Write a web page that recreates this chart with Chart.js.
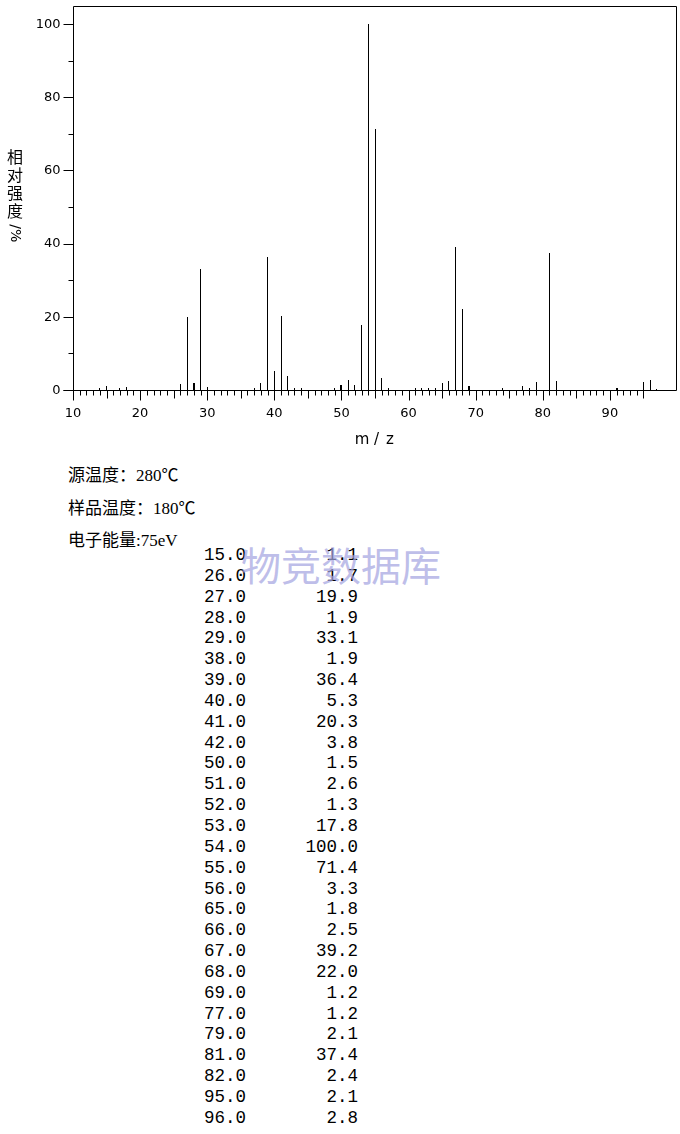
<!DOCTYPE html>
<html><head><meta charset="utf-8">
<script src="https://cdn.jsdelivr.net/npm/chart.js@4.4.0/dist/chart.umd.min.js"></script>
<style>
html,body{margin:0;padding:0;background:#fff;width:680px;height:1134px;overflow:hidden;}
#wrap{position:relative;width:680px;height:1134px;}
#c{position:absolute;left:0;top:0;}
.info{position:absolute;left:68px;font-family:"Liberation Serif","Noto Sans CJK SC",serif;font-size:17px;line-height:17px;color:#000;white-space:nowrap;}
#tbl{position:absolute;left:0;top:545px;font-family:"Liberation Mono",monospace;font-size:17.5px;line-height:20.85px;color:#000;}
.row{position:relative;height:20.85px;white-space:nowrap;}
.row .a{position:absolute;left:204px;}
.row .b{position:absolute;left:258px;width:100px;text-align:right;}
#wm{position:absolute;left:241px;top:544px;font-family:"Noto Sans CJK SC",sans-serif;font-size:40px;line-height:40px;color:rgba(165,165,225,0.72);white-space:nowrap;}
</style></head>
<body><div id="wrap"><canvas id="c" width="680" height="460"></canvas>
<div class="info" style="top:467px">源温度：280℃</div>
<div class="info" style="top:500px">样品温度：180℃</div>
<div class="info" style="top:532px">电子能量:75eV</div>
<div id="tbl"></div>
<div id="wm">物竞数据库</div>
</div>
<script>
// Listed peaks (m/z, relative intensity %)
const listedMz = [15,26,27,28,29,38,39,40,41,42,50,51,52,53,54,55,56,65,66,67,68,69,77,79,81,82,95,96];
const listedInt = [1.1,1.7,19.9,1.9,33.1,1.9,36.4,5.3,20.3,3.8,1.5,2.6,1.3,17.8,100.0,71.4,3.3,1.8,2.5,39.2,22.0,1.2,1.2,2.1,37.4,2.4,2.1,2.8];
// Minor peaks only visible in the spectrum plot
const minorMz = [14,17,18,30,37,43,44,49,57,61,62,63,64,74,78,91,97];
const minorInt = [0.5,0.5,0.9,0.9,0.6,0.5,0.6,0.5,0.5,0.5,0.6,0.6,0.5,0.5,0.5,0.6,0.3];
// Axis tick labels
const xTickLabels = [10,20,30,40,50,60,70,80,90];
const yTickLabels = [0,20,40,60,80,100];
const yMinorTicks = [10,30,50,70,90];
const xTickFirst = 10, xTickLast = 95;
const xTitle = 'm/z';
const yTitleChars = ['相','对','强','度'];
const yTitleTail = '/%';

// style: peaks drawn with a double-width stroke
const widePeaks = [28,50,69,91];

const allPts = listedMz.map((m,i)=>({x:m,y:listedInt[i]})).concat(minorMz.map((m,i)=>({x:m,y:minorInt[i]})));
const thinPts = allPts.filter(p=>!widePeaks.includes(p.x));
const widePts = allPts.filter(p=>widePeaks.includes(p.x));

// table
const tbl = document.getElementById('tbl');
listedMz.forEach((m,i)=>{
  const r = document.createElement('div'); r.className='row';
  const a = document.createElement('span'); a.className='a'; a.textContent = m.toFixed(1);
  const b = document.createElement('span'); b.className='b'; b.textContent = listedInt[i].toFixed(1);
  r.appendChild(a); r.appendChild(b); tbl.appendChild(r);
});

const snapBars = {
  id:'snapBars',
  beforeDatasetDraw(chart,args){
    const ctx = chart.ctx;
    const ds = chart.data.datasets[args.index];
    ctx.save(); ctx.fillStyle = ds.backgroundColor;
    args.meta.data.forEach(el=>{
      const p = el.getProps(['x','y','base','width'], true);
      const w = Math.max(1, Math.round(p.width));
      const left = Math.round(p.x - w/2);
      const top = Math.round(p.y);
      const bottom = Math.round(p.base);
      ctx.fillRect(left, top, w, bottom-top);
    });
    ctx.restore();
    return false;
  }
};

const axesPlugin = {
  id:'axesPlugin',
  afterDraw(chart){
    const ctx = chart.ctx, a = chart.chartArea, xs = chart.scales.x, ys = chart.scales.y;
    const px = v=>Math.round(xs.getPixelForValue(v))+0.5;
    const py = v=>Math.round(ys.getPixelForValue(v))+0.5;
    const L = px(xs.min), R = Math.round(a.right)-0.5, T = Math.round(a.top)+0.5, B = py(0);
    ctx.save();
    ctx.strokeStyle='#000'; ctx.lineWidth=1;
    ctx.beginPath();
    ctx.moveTo(L,T); ctx.lineTo(R,T); ctx.lineTo(R,B); ctx.lineTo(L-10,B);
    ctx.moveTo(L,T); ctx.lineTo(L,B);
    yTickLabels.forEach(v=>{ const y=py(v); ctx.moveTo(L-10,y); ctx.lineTo(L,y); });
    yMinorTicks.forEach(v=>{ const y=py(v); ctx.moveTo(L-5,y); ctx.lineTo(L,y); });
    for(let v=xTickFirst; v<=xTickLast; v++){
      const x=px(v); const len = v%10===0?10:(v%5===0?8:5);
      ctx.moveTo(x,B); ctx.lineTo(x,B+len);
    }
    ctx.stroke();
    ctx.fillStyle='#000';
    ctx.font='13px "DejaVu Sans"';
    ctx.textAlign='right'; ctx.textBaseline='middle';
    yTickLabels.forEach(v=>{ ctx.fillText(String(v), L-13, ys.getPixelForValue(v)+0.5); });
    ctx.textAlign='center'; ctx.textBaseline='alphabetic';
    xTickLabels.forEach(v=>{ ctx.fillText(String(v), xs.getPixelForValue(v), B+26); });
    ctx.font='15px "DejaVu Sans"';
    const chars = xTitle.split('');
    const cx = (a.left+a.right)/2;
    const offs = [-13,1.5,15];
    chars.forEach((ch,i)=>ctx.fillText(ch, cx+offs[i], B+53));
    ctx.font='16px "Noto Sans CJK SC"';
    ctx.textBaseline='middle';
    const midY = (a.top+B)/2;
    yTitleChars.forEach((ch,i)=>ctx.fillText(ch, 15, midY - 41 + i*18));
    ctx.translate(15, midY + 35);
    ctx.rotate(Math.PI/2);
    ctx.font='14px "DejaVu Sans"';
    ctx.fillText(yTitleTail, 0, 0);
    ctx.restore();
  }
};

new Chart(document.getElementById('c'), {
  type:'bar',
  data:{datasets:[
    {data:thinPts, backgroundColor:'#000', barThickness:1, grouped:false},
    {data:widePts, backgroundColor:'#000', barThickness:2, grouped:false}
  ]},
  options:{
    responsive:false, animation:false,
    layout:{padding:{left:73, top:6, right:3, bottom:70}},
    plugins:{legend:{display:false}, tooltip:{enabled:false}},
    scales:{
      x:{type:'linear', min:10, max:100, offset:false, display:false},
      y:{type:'linear', min:0, max:104.9, display:false}
    }
  },
  plugins:[snapBars, axesPlugin]
});
</script></body></html>
